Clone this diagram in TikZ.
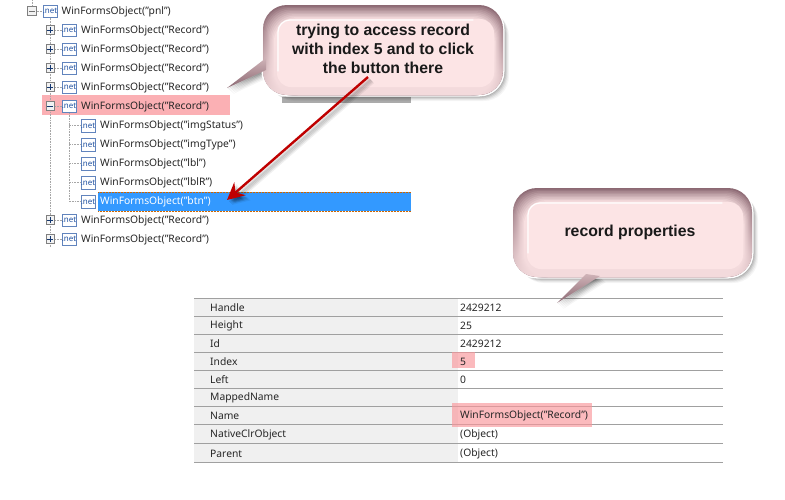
\documentclass[tikz,border=0pt]{standalone}
\usepackage{fontspec}
\setmainfont{Noto Sans}
\newfontfamily\calloutfont{Liberation Sans}
\usetikzlibrary{positioning,arrows.meta,calc,fadings}
\definecolor{netblue}{RGB}{30,80,160}
\definecolor{rowblue}{RGB}{51,153,255}
\definecolor{calloutpink}{RGB}{252,228,229}
\definecolor{calloutdark}{RGB}{140,105,115}
\definecolor{gridgray}{RGB}{160,160,160}
\definecolor{markpink}{RGB}{250,150,155}
\tikzset{
  netbox/.style={draw=netblue!70,line width=.5pt,fill=white,minimum width=14.5pt,minimum height=12.5pt,
    inner sep=0pt,text=netblue,font=\fontsize{8}{8}\selectfont\bfseries},
  treetext/.style={anchor=west,inner sep=0pt,text=black!85,font=\fontsize{10.3}{11}\selectfont},
  expander/.style={draw=black!50,fill=black!5,line width=.7pt,minimum size=8.5pt,inner sep=0pt},
  treeline/.style={draw=black!35,densely dotted,line width=.6pt},
  signline/.style={draw=netblue!70!black,line width=.7pt},
  gridline/.style={draw=gridgray,line width=.7pt},
  tabletext/.style={anchor=west,inner sep=0pt,text=black!85,font=\fontsize{10.3}{11}\selectfont},
  marker/.style={fill=markpink,fill opacity=.65,draw=none},
  callouttext/.style={align=center,text=black!90,font=\calloutfont\fontsize{15.8}{19}\selectfont\bfseries},
  redarrow/.style={-{Stealth[length=17pt,width=17pt]},line width=2.4pt,draw=red!75!black}
}
% callout: corners, tail root a, tail root b, tail end
\newcommand{\balloon}[7]{%
  \foreach \s/\o in {6/.04,5/.05,4/.07,3/.09,2/.11,1/.13}{
    \fill[black,opacity=\o,rounded corners=25pt] (#1+\s,#2+\s) rectangle (#3+\s,#4+\s);
    \fill[black,opacity=\o] ($(#5)+(\s,\s)$) -- ($(#7)+(\s,\s)$) -- ($(#6)+(\s,\s)$) -- cycle;
  }
  \fill[white,rounded corners=25pt] (#1-1.5,#2-1) rectangle (#3+1.5,#4+1.5);
  \foreach \k in {0,...,9}{
    \pgfmathsetmacro{\mixval}{100-11*\k}
    \fill[calloutdark!\mixval!calloutpink,rounded corners=24pt]
      (#1+1.2*\k,#2+1.5*\k) rectangle (#3-.9*\k,#4);
  }
  \fill[calloutpink!92!calloutdark,rounded corners=24pt,path fading=north] (#1,#2) rectangle (#3,#4);
  \fill[calloutpink,rounded corners=14pt] (#1+14,#2+14) rectangle (#3-9,#4-8);
  \shade[top color=calloutpink!60!calloutdark,bottom color=calloutdark] (#5) -- (#7) -- (#6) -- cycle;
  \draw[white,line width=1.2pt,line cap=round,rounded corners=12pt] (#1+15,#4-24) -- (#1+15,#2+15) -- (#3-30,#2+15);
}
\begin{document}
\begin{tikzpicture}[x=1pt,y=-1pt]
\useasboundingbox (0,0) rectangle (785,499);
\fill[white] (0,0) rectangle (785,499);

% selected rows
\fill[markpink,opacity=.75] (42,95) rectangle (230,115);
\fill[rowblue] (98,192) rectangle (411,211);
\draw[orange!80!black,densely dotted,line width=.5pt] (98,192) -- (411,192) (98,211) -- (411,211);
\fill[black!33] (282,97) rectangle (411,102.5);

% tree
\node[expander] (pnlplus) at (32,11) {};
\node[netbox] (pnlicon) at (50,11) {.net};
\node[treetext] (pnl) at (61.5,11.5) {WinFormsObject("pnl")};
\coordinate (pnltop) at (32,0);
\coordinate (treeend) at (50,247);
\draw[treeline] (pnltop) -- (pnlplus);
\draw[treeline] (pnlplus) -- (pnlicon);
\draw[treeline] (pnlicon) -- (treeend);
\draw[signline,draw=black!55] (29,11) -- (35,11);

\foreach \n/\y in {a/30,b/49,c/68,d/87,e/106,f/220,g/239}{
  \node[expander] (plus\n) at (50.3,\y) {};
  \node[netbox] (icon\n) at (69,\y) {.net};
  \node[treetext] (rec\n) at (81,\y+.6) {WinFormsObject("Record")};
  \draw[treeline] (plus\n) -- (icon\n);
  \draw[signline] ([xshift=-3pt]plus\n.center) -- ([xshift=3pt]plus\n.center);
}
\foreach \n in {a,b,c,d,f,g}
  \draw[signline] ([yshift=3pt]plus\n.center) -- ([yshift=-3pt]plus\n.center);

\foreach \n/\y/\t in {s/125/imgStatus,t/144/imgType,l/163/lbl,r/182/lblR}{
  \node[netbox] (icon\n) at (88,\y+.5) {.net};
  \node[treetext] (lab\n) at (100,\y+1) {WinFormsObject("\t")};
}
\node[netbox] (iconb) at (88,201.5) {.net};
\node[treetext,text=white] (labb) at (100,202) {WinFormsObject("btn")};
\coordinate (branch) at (69,113);
\coordinate (branchend) at (69,201.5);
\draw[treeline] (branch) -- (branchend) -- (iconb);
\foreach \n in {s,t,l,r}
  \draw[treeline] (icon\n.west) -- (icon\n.west -| branch);

% table
\fill[black!6] (194,298) rectangle (458,462);
\foreach \y in {298,316,334,352,370,388,406,424.5,443,462}
  \draw[gridline] (194,\y) -- (723,\y);
\fill[marker] (452,352) rectangle (475,368);
\fill[marker] (452,403) rectangle (592,427);
\foreach \n/\y/\p/\v in {hnd/308/Handle/2429212,hgt/326/Height/25,idn/344/Id/2429212,
    idx/362/Index/5,lft/380/Left/0,map/398/MappedName/,nam/416/Name/WinFormsObject("Record"),
    clr/434.5/NativeClrObject/(Object),par/453.5/Parent/(Object)}{
  \node[tabletext] (prop\n) at (210,\y) {\p};
  \node[tabletext] (val\n) at (460,\y) {\v};
}

% callouts
\coordinate (tipone) at (227,88);
\coordinate (tiptwo) at (557,303);
\balloon{263}{5}{503}{95}{266,58}{266,70}{tipone}
\balloon{513}{188}{752}{277}{586,274}{600,276}{tiptwo}
\node[callouttext] (askbox) at (383,49) {trying to access record\\with index 5 and to click\\the button there};
\node[callouttext] (propbox) at (630,232) {record properties};

% arrow
\coordinate (arrowstart) at (368,77);
\coordinate (arrowend) at (227,200);
\foreach \s/\o in {5/.06,4/.08,3/.1,2/.1}
  \draw[-{Stealth[length=17pt,width=17pt]},line width=3pt,draw=black,opacity=\o]
    ($(arrowstart)+(\s,\s)$) -- ($(arrowend)+(\s,\s)$);
\draw[redarrow] (arrowstart) -- (arrowend);
\end{tikzpicture}
\end{document}
